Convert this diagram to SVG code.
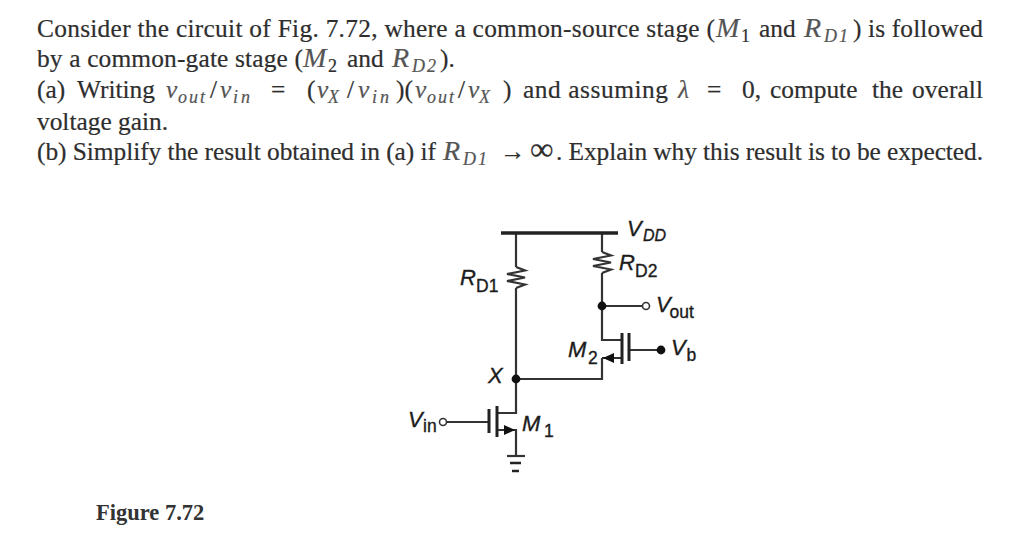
<svg xmlns="http://www.w3.org/2000/svg" width="1019" height="554" viewBox="0 0 1019 554">
<style>
.t{font-family:"Liberation Serif",serif;font-size:25.4px;fill:#2e2e2e;stroke:#2e2e2e;stroke-width:.2}
.i{font-style:italic;fill:#555;stroke:#555}
.m{font-size:28px}
.s{font-size:18px}
.c{font-family:"Liberation Sans",sans-serif;font-style:italic;font-size:22px;fill:#1c1c1c;stroke:#1c1c1c;stroke-width:.35}
.b{font-family:"Liberation Sans",sans-serif;font-size:17.5px;fill:#1c1c1c;stroke:#1c1c1c;stroke-width:.35}
.bi{font-style:italic;font-size:16px}
.w{fill:none;stroke:#333;stroke-width:2.2}
.p{fill:none;stroke:#222;stroke-width:3}
.d{fill:#111}
.o{fill:#fff;stroke:#333;stroke-width:1.6}
</style>
<rect width="1019" height="554" fill="#fff"/>
<g id="problem-text">
<text class="t" y="37"><tspan x="37" textLength="678">Consider the circuit of Fig. 7.72, where a common-source stage (</tspan><tspan class="i m" x="716">M</tspan><tspan class="s" x="741" dy="5">1</tspan><tspan x="759" dy="-5">and</tspan><tspan class="i m" x="804">R</tspan><tspan class="i s" x="824" dy="5" textLength="24">D1</tspan><tspan x="853" dy="-5">)</tspan><tspan x="868" textLength="115">is followed</tspan></text>
<text class="t" y="67"><tspan x="37" textLength="266">by a common-gate stage (</tspan><tspan class="i m" x="303">M</tspan><tspan class="s" x="328" dy="5">2</tspan><tspan x="347" dy="-5">and</tspan><tspan class="i m" x="392">R</tspan><tspan class="i s" x="412" dy="5" textLength="24">D2</tspan><tspan x="440" dy="-5">).</tspan></text>
<text class="t" y="98"><tspan x="37">(a)</tspan><tspan x="77">Writing</tspan><tspan class="i" x="166">v</tspan><tspan class="i s" x="178" dy="5" textLength="27">out</tspan><tspan x="210" dy="-5">/</tspan><tspan class="i" x="220">v</tspan><tspan class="i s" x="233" dy="5" textLength="17">in</tspan><tspan x="271" dy="-5">=</tspan><tspan x="307">(</tspan><tspan class="i" x="317">v</tspan><tspan class="i s" x="328" dy="5">X</tspan><tspan x="347" dy="-5">/</tspan><tspan class="i" x="358">v</tspan><tspan class="i s" x="372" dy="5" textLength="17">in</tspan><tspan x="396" dy="-5">)(</tspan><tspan class="i" x="415">v</tspan><tspan class="i s" x="427" dy="5" textLength="27">out</tspan><tspan x="458" dy="-5">/</tspan><tspan class="i" x="468">v</tspan><tspan class="i s" x="479" dy="5">X</tspan><tspan x="503" dy="-5">)</tspan><tspan x="523" textLength="145">and assuming</tspan><tspan class="i" x="678">λ</tspan><tspan x="707">=</tspan><tspan x="742">0,</tspan><tspan x="770">compute</tspan><tspan x="872">the</tspan><tspan x="912" textLength="71">overall</tspan></text>
<text class="t" y="130" x="37" textLength="131">voltage gain.</text>
<text class="t" y="160"><tspan x="37" textLength="399">(b) Simplify the result obtained in (a) if</tspan><tspan class="i m" x="443">R</tspan><tspan class="i s" x="463" dy="5" textLength="24">D1</tspan><tspan x="500" dy="-5">→</tspan><tspan x="530" font-size="33">∞</tspan><tspan x="556" textLength="427">. Explain why this result is to be expected.</tspan></text>
</g>
<g id="connectors">
<path class="w" d="M516 233V267M516 288V379M516 379H602V358M602 233V252M602 273V340H622M602 306H643M516 379V413H497M497 430H516V455M622 358H602M629 350H661M446 422H489"/>
<path d="M501 233H618" fill="none" stroke="#222" stroke-width="3.6"/>
</g>
<g id="RD1"><path class="w" d="M516 267L525 270.5L507 274L525 277.5L507 281L525 284.5L516 288"/><text class="c" x="460" y="285">R</text><text class="b" x="476" y="292">D1</text></g>
<g id="RD2"><path class="w" d="M602 252L611 255.5L593 259L611 262.5L593 266L611 269.5L602 273"/><text class="c" x="619" y="270">R</text><text class="b" x="635" y="277">D2</text></g>
<g id="VDD"><text class="c" x="627" y="236">V</text><text class="b bi" x="643" y="241">DD</text></g>
<g id="Vout"><circle class="d" cx="602" cy="306" r="4.4"/><circle class="o" cx="646" cy="306" r="3.5"/><text class="c" x="656" y="312">V</text><text class="b" x="669.5" y="318">out</text></g>
<g id="M2"><path class="p" d="M622 333V364M629 333V361"/><path class="d" d="M603 358L614 353V363Z"/><text class="c" x="568" y="357">M</text><text class="b" x="588" y="364">2</text></g>
<g id="Vb"><circle class="d" cx="661" cy="350" r="4.4"/><text class="c" x="671" y="355">V</text><text class="b" x="686.5" y="361">b</text></g>
<g id="X"><circle class="d" cx="516" cy="379" r="4.4"/><text class="c" x="488" y="383">X</text></g>
<g id="M1"><path class="p" d="M497 406V437M489 409V433"/><path class="d" d="M515 430L504 425V435Z"/><text class="c" x="522" y="431">M</text><text class="b" x="544" y="437">1</text></g>
<g id="Vin"><circle class="o" cx="443" cy="422" r="3.5"/><text class="c" x="408" y="427">V</text><text class="b" x="423" y="432">in</text></g>
<g id="GND"><path class="w" d="M507 456H525"/><path d="M510 463H521M512 471H519" fill="none" stroke="#222" stroke-width="2.6"/></g>
<text id="caption" x="96" y="520" font-family="Liberation Serif, serif" font-weight="700" font-size="22.5" fill="#333">Figure 7.72</text>
</svg>
